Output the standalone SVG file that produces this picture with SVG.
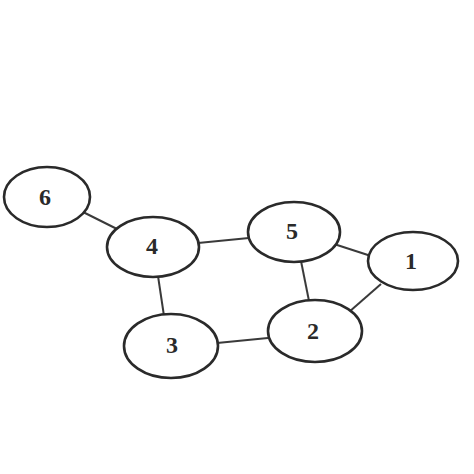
<svg xmlns="http://www.w3.org/2000/svg" width="474" height="474" viewBox="0 0 474 474">
<style>
.n{fill:#fff;stroke:#2a2a2a;stroke-width:2.6}
.t{font-family:"Liberation Serif","DejaVu Serif",serif;font-size:24px;font-weight:bold;fill:#2a2a2a;text-anchor:middle;dominant-baseline:central}
.e{stroke:#3a3a3a;stroke-width:2;fill:none}
</style>
<rect width="474" height="474" fill="#fff"/>
<g id="connectors">
<line class="e" x1="83" y1="212" x2="117" y2="229"/>
<line class="e" x1="198" y1="243" x2="249" y2="238"/>
<line class="e" x1="158" y1="276" x2="164" y2="316"/>
<line class="e" x1="217" y1="343" x2="268" y2="338"/>
<line class="e" x1="301" y1="261" x2="309" y2="301"/>
<line class="e" x1="334" y1="244" x2="371" y2="256"/>
<line class="e" x1="349" y1="312" x2="381" y2="284"/>
</g>
<g id="node6"><ellipse class="n" cx="47" cy="197" rx="43" ry="30"/><text class="t" x="45" y="197">6</text></g>
<g id="node4"><ellipse class="n" cx="153" cy="247" rx="46" ry="30"/><text class="t" x="152" y="246">4</text></g>
<g id="node5"><ellipse class="n" cx="294" cy="232" rx="46" ry="30"/><text class="t" x="292" y="231">5</text></g>
<g id="node1"><ellipse class="n" cx="413" cy="261" rx="45" ry="29"/><text class="t" x="411" y="261">1</text></g>
<g id="node3"><ellipse class="n" cx="171" cy="346" rx="47" ry="32"/><text class="t" x="172" y="345">3</text></g>
<g id="node2"><ellipse class="n" cx="315" cy="331" rx="47" ry="31"/><text class="t" x="313" y="331">2</text></g>
</svg>
